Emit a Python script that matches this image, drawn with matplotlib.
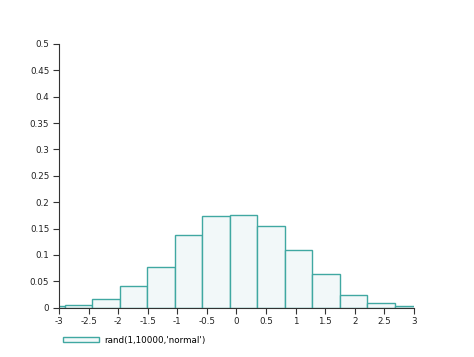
import numpy as np
import matplotlib.pyplot as plt
from matplotlib.patches import Patch

# histogram bin edges and normalized heights
bin_edges = [-3.37, -2.905, -2.44, -1.975, -1.51, -1.045, -0.58, -0.115,
             0.35, 0.815, 1.28, 1.745, 2.21, 2.675, 3.14]
heights = [0.0025, 0.0045, 0.017, 0.042, 0.077, 0.137, 0.174, 0.176,
           0.155, 0.109, 0.064, 0.024, 0.0083, 0.0026]
x_ticks = [-3, -2.5, -2, -1.5, -1, -0.5, 0, 0.5, 1, 1.5, 2, 2.5, 3]
x_tick_labels = ["-3", "-2.5", "-2", "-1.5", "-1", "-0.5", "0", "0.5", "1", "1.5", "2", "2.5", "3"]
y_ticks = [0, 0.05, 0.1, 0.15, 0.2, 0.25, 0.3, 0.35, 0.4, 0.45, 0.5]
y_tick_labels = ["0", "0.05", "0.1", "0.15", "0.2", "0.25", "0.3", "0.35", "0.4", "0.45", "0.5"]
legend_label = "rand(1,10000,'normal')"

edge_color = "#40a8a2"
face_color = "#f2f8f9"

plt.rcParams.update({"font.size": 6.3, "font.family": "DejaVu Sans"})

fig = plt.figure(figsize=(4.74, 3.57), dpi=100)
ax = fig.add_axes([0.1245, 0.138, 0.7485, 0.739])

edges = np.array(bin_edges)
ax.bar(edges[:-1], heights, width=np.diff(edges), align="edge",
       color=face_color, edgecolor=edge_color, linewidth=1.0)

ax.set_xlim(-3, 3)
ax.set_ylim(0, 0.5)
ax.set_xticks(x_ticks)
ax.set_xticklabels(x_tick_labels)
ax.set_yticks(y_ticks)
ax.set_yticklabels(y_tick_labels)

ax.spines["top"].set_visible(False)
ax.spines["right"].set_visible(False)
for s in ["left", "bottom"]:
    ax.spines[s].set_linewidth(0.8)
    ax.spines[s].set_color("#333333")
ax.tick_params(direction="out", length=4, width=0.8, color="#333333",
               labelcolor="#222222", pad=3)

handle = Patch(facecolor=face_color, edgecolor=edge_color, linewidth=1.0)
fig.legend([handle], [legend_label], loc="center left",
           bbox_to_anchor=(0.1236, 0.047), frameon=False,
           handlelength=4.1, handleheight=0.55, handletextpad=0.6,
           fontsize=6.3, borderpad=0)

fig.savefig("out.png", dpi=100)
